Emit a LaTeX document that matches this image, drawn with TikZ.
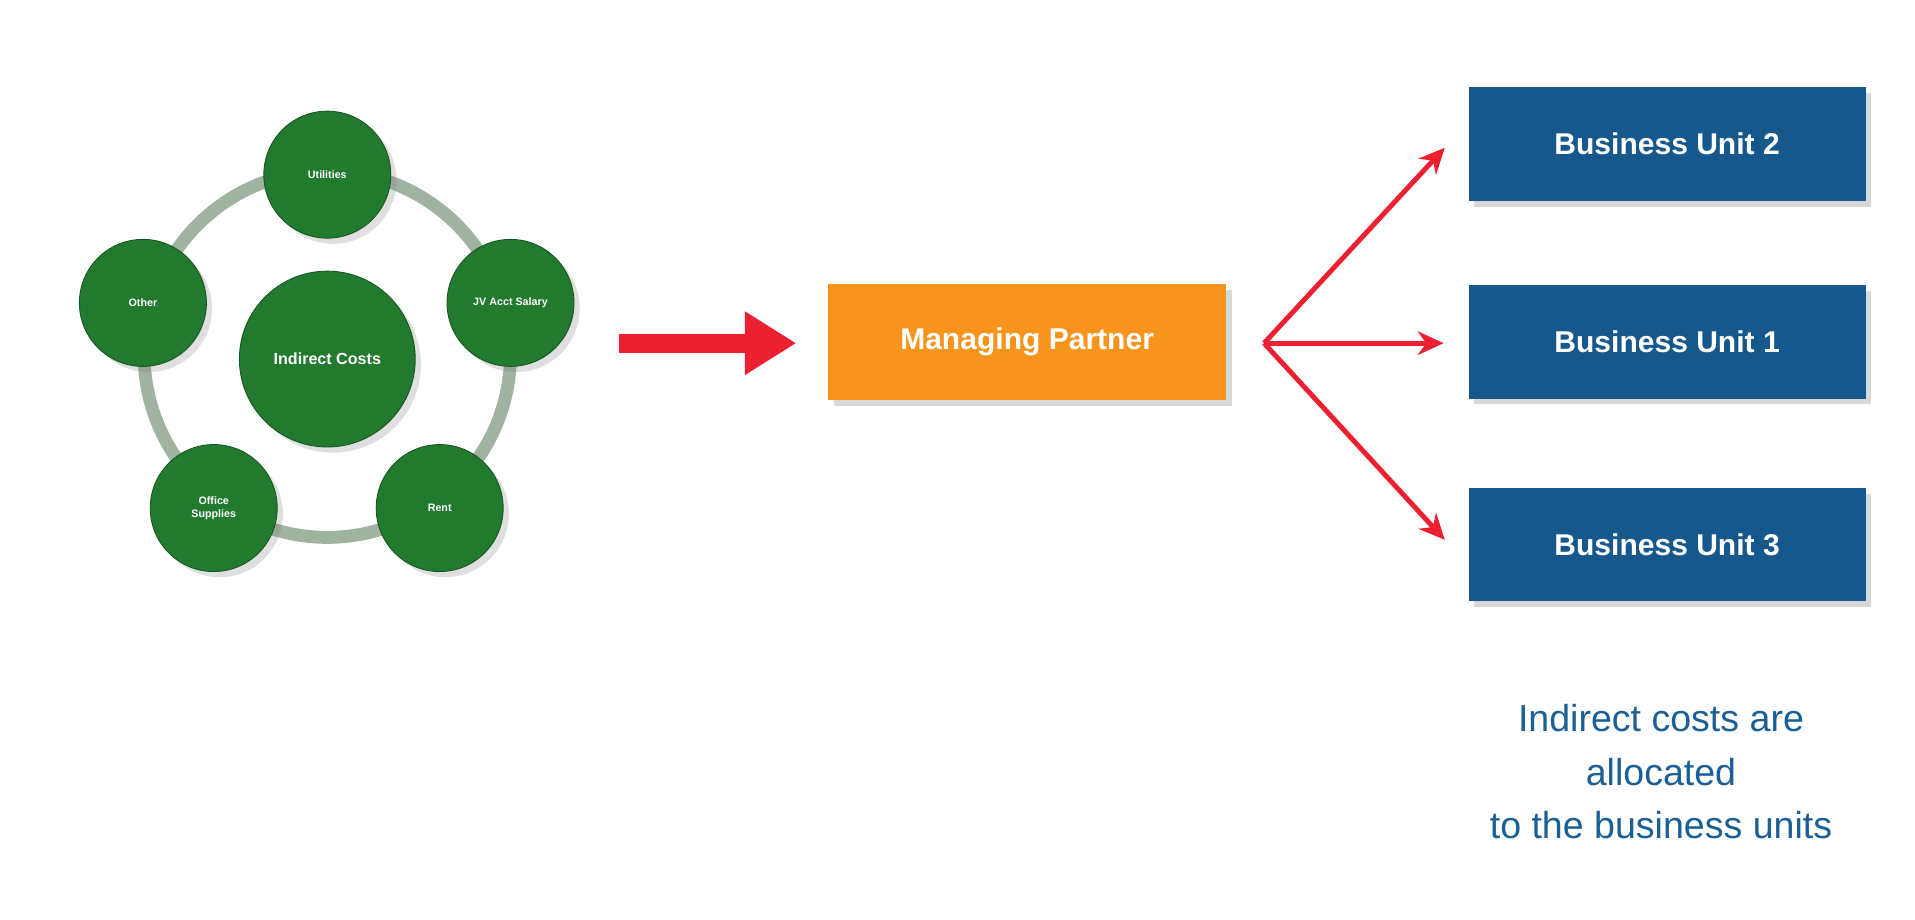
\documentclass[tikz,border=0pt]{standalone}
\usepackage{fontspec}
\setmainfont{Liberation Sans}
\usetikzlibrary{arrows.meta,shadows}
\definecolor{cgreen}{RGB}{34,122,46}
\definecolor{cblue}{RGB}{22,88,140}
\definecolor{corange}{RGB}{247,148,29}
\definecolor{cred}{RGB}{236,32,48}
\definecolor{cring}{RGB}{160,178,160}
\definecolor{ctext}{RGB}{26,95,150}
\tikzset{
 sm/.style={circle,fill=cgreen,draw=cgreen!70!black,minimum size=104*0.02cm,inner sep=0pt,text=white,font=\fontsize{5}{6}\selectfont\bfseries,align=center,drop shadow={opacity=0.25}},
 bu/.style={rectangle,fill=cblue,minimum width=325*0.02cm,minimum height=93*0.02cm,text=white,font=\fontsize{14}{16}\selectfont\bfseries,drop shadow={opacity=0.3}},
 rarr/.style={draw=cred,line width=2.3pt,-{Stealth[length=12pt,width=11pt]}}
}
\begin{document}
\begin{tikzpicture}[x=0.02cm,y=-0.02cm]
\useasboundingbox (0,0) rectangle (1568,753);
\fill[white] (0,0) rectangle (1568,753);
\draw[cring,line width=6pt] (268,290) circle (150);
\node[circle,fill=cgreen,draw=cgreen!70!black,minimum size=144*0.02cm,text=white,font=\fontsize{7.5}{9}\selectfont\bfseries,drop shadow={opacity=0.25}] (ic) at (268,294) {Indirect Costs};
\node[sm] (ut) at (268,143) {Utilities};
\node[sm] (jv) at (418,248) {JV Acct Salary};
\node[sm] (re) at (360,416) {Rent};
\node[sm] (of) at (175,416) {Office\\Supplies};
\node[sm] (ot) at (117,248) {Other};
\coordinate (a1) at (507,281);
\coordinate (a2) at (652,281);
\draw[draw=cred,line width=9pt,-{Triangle[length=24pt,width=28pt]}] (a1) -- (a2);
\node[rectangle,fill=corange,minimum width=326*0.02cm,minimum height=95*0.02cm,text=white,font=\fontsize{14}{16}\selectfont\bfseries,drop shadow={opacity=0.3}] (mp) at (841,280) {Managing Partner};
\node[bu] (b2) at (1365,118) {Business Unit 2};
\node[bu] (b1) at (1365,280) {Business Unit 1};
\node[bu] (b3) at (1365,446) {Business Unit 3};
\coordinate (o) at (1035,281);
\draw[rarr] (o) -- (1183,121);
\draw[rarr] (o) -- (1182,281);
\draw[rarr] (o) -- (1183,442);
\node[text=ctext,align=center,font=\fontsize{17.5}{25}\selectfont] (t) at (1360,632) {Indirect costs are\\allocated\\to the business units};
\end{tikzpicture}
\end{document}
